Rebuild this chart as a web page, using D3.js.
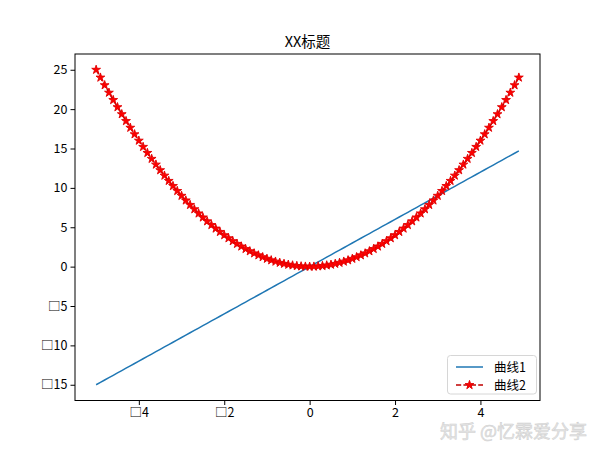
<!DOCTYPE html>
<html><head><meta charset="utf-8">
<script src="https://cdn.jsdelivr.net/npm/d3@7"></script>
<style>body{margin:0;background:#fff}svg{display:block}text{font-family:"Noto Sans CJK SC","Noto Sans",sans-serif}</style>
</head><body>
<svg id="c" width="600" height="450"></svg>
<script>
const title = "XX标题";
const seriesNames = ["曲线1", "曲线2"];
const xs = [-5.0,-4.9,-4.8,-4.7,-4.6,-4.5,-4.4,-4.3,-4.2,-4.1,-4.0,-3.9,-3.8,-3.7,-3.6,-3.5,-3.4,-3.3,-3.2,-3.1,-3.0,-2.9,-2.8,-2.7,-2.6,-2.5,-2.4,-2.3,-2.2,-2.1,-2.0,-1.9,-1.8,-1.7,-1.6,-1.5,-1.4,-1.3,-1.2,-1.1,-1.0,-0.9,-0.8,-0.7,-0.6,-0.5,-0.4,-0.3,-0.2,-0.1,0.0,0.1,0.2,0.3,0.4,0.5,0.6,0.7,0.8,0.9,1.0,1.1,1.2,1.3,1.4,1.5,1.6,1.7,1.8,1.9,2.0,2.1,2.2,2.3,2.4,2.5,2.6,2.7,2.8,2.9,3.0,3.1,3.2,3.3,3.4,3.5,3.6,3.7,3.8,3.9,4.0,4.1,4.2,4.3,4.4,4.5,4.6,4.7,4.8,4.9];
const y1 = [-15.0,-14.7,-14.4,-14.1,-13.8,-13.5,-13.2,-12.9,-12.6,-12.3,-12.0,-11.7,-11.4,-11.1,-10.8,-10.5,-10.2,-9.9,-9.6,-9.3,-9.0,-8.7,-8.4,-8.1,-7.8,-7.5,-7.2,-6.9,-6.6,-6.3,-6.0,-5.7,-5.4,-5.1,-4.8,-4.5,-4.2,-3.9,-3.6,-3.3,-3.0,-2.7,-2.4,-2.1,-1.8,-1.5,-1.2,-0.9,-0.6,-0.3,0.0,0.3,0.6,0.9,1.2,1.5,1.8,2.1,2.4,2.7,3.0,3.3,3.6,3.9,4.2,4.5,4.8,5.1,5.4,5.7,6.0,6.3,6.6,6.9,7.2,7.5,7.8,8.1,8.4,8.7,9.0,9.3,9.6,9.9,10.2,10.5,10.8,11.1,11.4,11.7,12.0,12.3,12.6,12.9,13.2,13.5,13.8,14.1,14.4,14.7];
const y2 = [25.00,24.01,23.04,22.09,21.16,20.25,19.36,18.49,17.64,16.81,16.00,15.21,14.44,13.69,12.96,12.25,11.56,10.89,10.24,9.61,9.00,8.41,7.84,7.29,6.76,6.25,5.76,5.29,4.84,4.41,4.00,3.61,3.24,2.89,2.56,2.25,1.96,1.69,1.44,1.21,1.00,0.81,0.64,0.49,0.36,0.25,0.16,0.09,0.04,0.01,0.00,0.01,0.04,0.09,0.16,0.25,0.36,0.49,0.64,0.81,1.00,1.21,1.44,1.69,1.96,2.25,2.56,2.89,3.24,3.61,4.00,4.41,4.84,5.29,5.76,6.25,6.76,7.29,7.84,8.41,9.00,9.61,10.24,10.89,11.56,12.25,12.96,13.69,14.44,15.21,16.00,16.81,17.64,18.49,19.36,20.25,21.16,22.09,23.04,24.01];
const xTicks = [-4, -2, 0, 2, 4];
const yTicks = [-15, -10, -5, 0, 5, 10, 15, 20, 25];
const watermark = "知乎 @忆霖爱分享";

const svg = d3.select("#c");
const L = 75, R = 540, T = 54, B = 400.5;
const xMin = d3.min(xs), xMax = d3.max(xs);
const yMin = Math.min(d3.min(y1), d3.min(y2)), yMax = Math.max(d3.max(y1), d3.max(y2));
const xm = (xMax - xMin) * 0.05, ym = (yMax - yMin) * 0.05;
const x = d3.scaleLinear().domain([xMin - xm, xMax + xm]).range([L, R]);
const y = d3.scaleLinear().domain([yMin - ym, yMax + ym]).range([B, T]);
const fmt = v => (v < 0 ? "\u25A1" + Math.abs(v) : String(v));

const c1 = "#1f77b4";

// series 1
svg.append("path").datum(xs.map((v, i) => [v, y1[i]]))
  .attr("fill", "none").attr("stroke", c1).attr("stroke-width", 1.5)
  .attr("d", d3.line().x(d => x(d[0])).y(d => y(d[1])));
// series 2
const d2 = xs.map((v, i) => [v, y2[i]]);
svg.append("path").datum(d2)
  .attr("fill", "none").attr("stroke", "#c00000").attr("stroke-width", 1.5).attr("stroke-dasharray", "5.2,2.2")
  .attr("d", d3.line().x(d => x(d[0])).y(d => y(d[1])));
const star = d3.symbol().type(d3.symbolStar).size(24);
svg.append("g").selectAll("path").data(d2).join("path")
  .attr("d", star).attr("transform", d => `translate(${x(d[0])},${y(d[1])})`)
  .attr("fill", "#ff0000").attr("stroke", "#e00000").attr("stroke-width", 0.9);

// frame
svg.append("rect").attr("x", L).attr("y", T).attr("width", R - L).attr("height", B - T)
  .attr("fill", "none").attr("stroke", "#000").attr("stroke-width", 1);

// axes
const gx = svg.append("g").attr("transform", `translate(0,${B})`)
  .call(d3.axisBottom(x).tickValues(xTicks).tickFormat(fmt).tickSize(4.5).tickPadding(3));
const gy = svg.append("g").attr("transform", `translate(${L},0)`)
  .call(d3.axisLeft(y).tickValues(yTicks).tickFormat(fmt).tickSize(4.5).tickPadding(3));
[gx, gy].forEach(g => {
  g.select(".domain").remove();
  g.selectAll("line").attr("stroke", "#000").attr("stroke-width", 1);
  g.selectAll("text").attr("fill", "#000").style("font-size", "12.5px").style("font-family", '"Noto Sans CJK SC",sans-serif');
});

// title
svg.append("text").attr("x", (L + R) / 2).attr("y", 47).attr("text-anchor", "middle")
  .style("font-size", "14.5px").attr("fill", "#000").text(title);

// legend
const lg = svg.append("g");
lg.append("rect").attr("x", 447.5).attr("y", 355.5).attr("width", 89).attr("height", 38.5).attr("rx", 3)
  .attr("fill", "#fff").attr("fill-opacity", 0.8).attr("stroke", "#d6d6d6").attr("stroke-width", 1);
const ly = [367, 385];
lg.append("line").attr("x1", 456).attr("x2", 483).attr("y1", ly[0]).attr("y2", ly[0]).attr("stroke", c1).attr("stroke-width", 1.5);
lg.append("line").attr("x1", 456).attr("x2", 483).attr("y1", ly[1]).attr("y2", ly[1]).attr("stroke", "#c00000").attr("stroke-width", 1.5).attr("stroke-dasharray", "5.2,2.2");
lg.append("path").attr("d", star).attr("transform", `translate(469.5,${ly[1]})`).attr("fill", "#ff0000").attr("stroke", "#e00000").attr("stroke-width", 0.9);
seriesNames.forEach((n, i) => lg.append("text").attr("x", 494).attr("y", ly[i] + 4.5).style("font-size", "12.5px").attr("fill", "#000").text(n));

// watermark
svg.append("text").attr("x", 440).attr("y", 438).style("font-size", "18px")
  .attr("fill", "#e6e6e6").attr("stroke", "#cfcfcf").attr("stroke-width", 0.5).text(watermark);
</script>
</body></html>
